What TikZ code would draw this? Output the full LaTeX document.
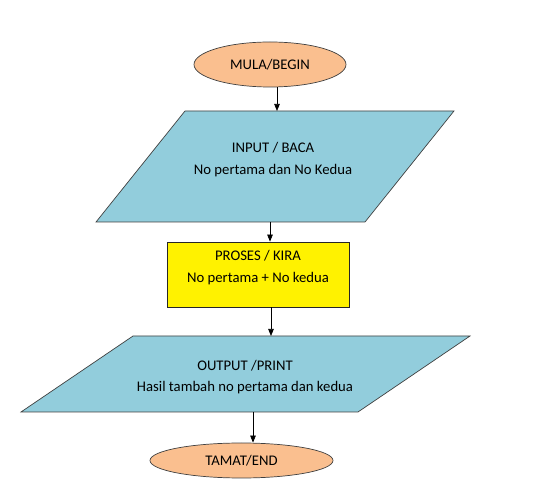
\documentclass[tikz,border=0pt]{standalone}
\usepackage{fontspec}
\setmainfont{Carlito}
\usetikzlibrary{shapes.geometric}
\usetikzlibrary{arrows.meta}

\definecolor{aqua}{RGB}{146,205,220}
\definecolor{peach}{RGB}{250,191,143}

\begin{document}
\begin{tikzpicture}[x=1pt, y=-1pt,
  arr/.style={-{Triangle[length=7pt,width=5.5pt]}, line width=0.7pt},
  term/.style={ellipse, draw=black!75, line width=0.7pt, fill=peach, inner sep=0pt},
  txt/.style={align=center, inner sep=0pt, font=\fontsize{14.7}{21.5}\selectfont}]
\useasboundingbox (0,0) rectangle (544,502);

\coordinate (iA) at (96,222);
\coordinate (iB) at (365,222);
\coordinate (iC) at (454,111);
\coordinate (iD) at (185,111);
\coordinate (oA) at (21,412);
\coordinate (oB) at (358,412);
\coordinate (oC) at (470,336);
\coordinate (oD) at (133,336);

\node[term, minimum width=152, minimum height=45] (mula) at (270,64.5) {};
\node[txt] at (270,64.5) {MULA/BEGIN};

\draw[black!75, line width=0.7pt, fill=aqua] (iA) -- (iB) -- (iC) -- (iD) -- cycle;
\node[txt] (baca) at (273,159.5) {INPUT / BACA\\No pertama dan No Kedua};

\node[draw=black!85, line width=0.7pt, fill=yellow, minimum width=182, minimum height=65,
  inner sep=0pt] (proses) at (258,274.5) {};
\node[txt] at (258,267.5) {PROSES / KIRA\\No pertama + No kedua};

\draw[black!75, line width=0.7pt, fill=aqua] (oA) -- (oB) -- (oC) -- (oD) -- cycle;
\node[txt] (cetak) at (245,377) {OUTPUT /PRINT\\Hasil tambah no pertama dan kedua};

\node[term, minimum width=183, minimum height=35] (tamat) at (241.5,460.5) {};
\node[txt] at (241.5,460.5) {TAMAT/END};

% anak panah
\coordinate (p1) at (277,111);
\coordinate (p2) at (270,222);
\coordinate (p3) at (271,336);
\coordinate (p4) at (253,412);
\draw[arr] (mula.south -| p1) -- (p1);
\draw[arr] (p2) -- (p2 |- proses.north);
\draw[arr] (proses.south -| p3) -- (p3);
\draw[arr] (p4) -- (p4 |- tamat.north);
\end{tikzpicture}
\end{document}
